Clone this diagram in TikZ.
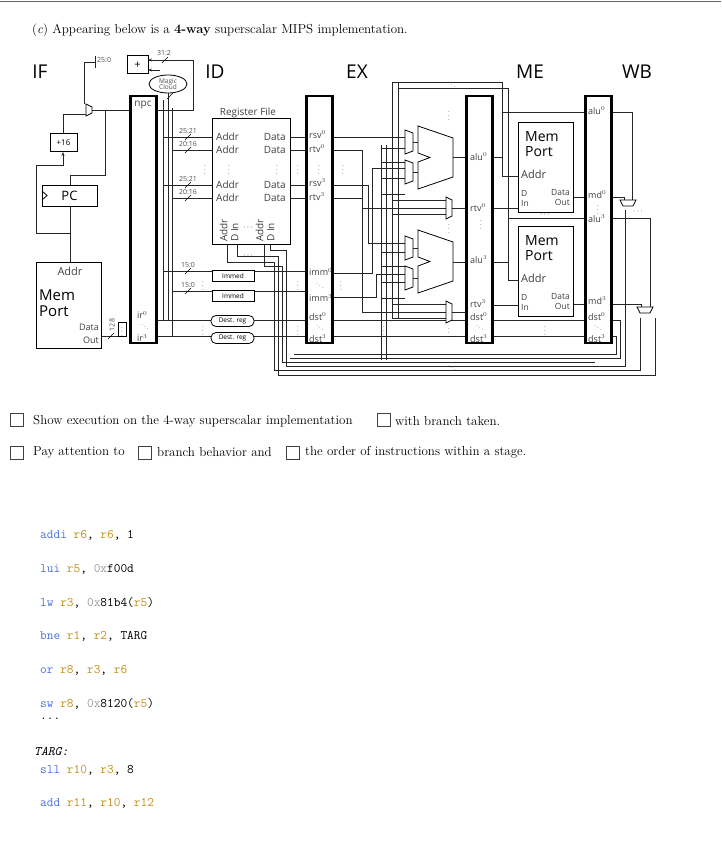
\documentclass[tikz,border=0pt]{standalone}
\usepackage{fontspec}
\newfontfamily\osans{Open Sans}
\usetikzlibrary{shapes.geometric,arrows.meta,calc}
\definecolor{kw}{HTML}{4A72E0}
\definecolor{rg}{HTML}{C0901A}
\definecolor{hx}{HTML}{999999}
\newcommand\vdd[1]{\node[font=\fontsize{7}{7}\selectfont,inner sep=0] at #1 {$\vdots$};}
\newcommand\hdd[1]{\node[font=\fontsize{8}{8}\selectfont,inner sep=0] at #1 {$\cdots$};}
\newcommand\ddd[1]{\node[font=\fontsize{6}{6}\selectfont,inner sep=0,rotate=-35] at #1 {$\cdots$};}
\newcommand\bslash[1]{\draw[thin] ($#1+(-3,3)$) -- ($#1+(3,-3)$);}
\begin{document}
\begin{tikzpicture}[x=1pt,y=-1pt,
  w/.style={line width=0.8pt,black!85},
  latch/.style={draw,line width=2.4pt,fill=white},
  box/.style={draw,line width=1pt,fill=white},
  lbl/.style={font=\osans\fontsize{10}{11}\selectfont,inner sep=0,text=black!75},
  slbl/.style={font=\osans\fontsize{7}{7}\selectfont,inner sep=0,text=black!70},
  sup/.style={font=\osans\fontsize{9}{10}\selectfont,inner sep=0,text=black!75,anchor=west},
  big/.style={font=\osans\fontsize{19}{20}\selectfont,inner sep=0},
  cb/.style={draw,line width=0.9pt,black!75,minimum size=13pt,inner sep=0},
  cbt/.style={draw,line width=1.8pt,black!75,minimum size=13pt,inner sep=0},
  serif/.style={anchor=west,inner sep=0,font=\fontsize{13}{15}\selectfont},
  code/.style={font=\ttfamily\fontsize{13}{14}\selectfont,anchor=west,inner sep=0}]
\useasboundingbox (0,0) rectangle (721,845);
\draw[black!60,line width=1pt] (0,2) -- (721,2);
\node[serif] (title) at (32,30) {(\textit{c}) Appearing below is a \textbf{4-way} superscalar MIPS implementation.};
% stage labels
\node[big] (sIF) at (40,72) {IF};
\node[big] (sID) at (215,72) {ID};
\node[big] (sEX) at (357,72) {EX};
\node[big] (sME) at (530,72) {ME};
\node[big] (sWB) at (637,72) {WB};

% ---------------- wires (behind) ----------------
% IF
\draw[w] (84,104) -- (84,62) -- (95,62);
\draw[w] (95,56) -- (95,68);
\node[slbl,anchor=west] (l250) at (97,60) {25:0};
\draw[w] (92,110) -- (193,110) -- (193,60) -- (148,60);
\draw[w,-{Stealth[length=4pt]}] (193,60) -- (148,60);
\draw[w,-{Stealth[length=4pt]}] (160,70) -- (148,70);
\bslash{(165,60)}
\node[slbl] (l312) at (164,53) {31:2};
\draw[w] (63,134) -- (63,114) -- (86,114);
\draw[w] (70,185) -- (70,175) -- (105,175) -- (105,110);
\draw[w] (70,206) -- (70,262);
\draw[w,-{Stealth[length=4pt]}] (70,233) -- (36,233) -- (36,165) -- (63,165) -- (63,152);
\draw[w] (101,336) -- (118,336);
\bslash{(111,336)}
\node[slbl,rotate=90] (l128) at (112,325) {128};
% ir to ID
\draw[w] (157,320) -- (212,320);
\draw[w] (157,336) -- (212,336);
\draw[w] (163,320) -- (163,100);
\draw[w] (172,336) -- (172,108);
\draw[w] (168,92) -- (168,320);
\bslash{(170,96)}
\foreach \y/\xs in {137/163,150/172,185/163,198/172,271/163,291/172}
  \draw[w] (\xs,\y) -- (212,\y);
\foreach \y/\t in {137/25:21,150/20:16,185/25:21,198/20:16,271/15:0,291/15:0}{
  \bslash{(188,\y)}
  \node[slbl] at (188,\y-6) {\t};}
% ID to EX
\foreach \y in {137,150,185,198,271,291,320,336} \draw[w] (254,\y) -- (306,\y);
% reg file write ports
\draw[w] (227,244) -- (227,262) -- (274,262) -- (274,370) -- (640,370) -- (640,318);
\draw[w] (237,244) -- (237,256) -- (278,256) -- (278,375) -- (655,375) -- (655,318);
\draw[w] (264,244) -- (264,266) -- (282,266) -- (282,362) -- (595,362);
\draw[w] (270,244) -- (270,250) -- (286,250) -- (286,366) -- (625,366) -- (625,210);
\hdd{(248,256)}
\ddd{(452,368)}
% EX internals
\foreach \y in {137,150,185,198} \draw[w] (333,\y) -- (362,\y);
\draw[w] (362,137) -- (405,137);
\draw[w] (362,150) -- (362,208) -- (446,208);
\draw[w] (362,185) -- (368,185) -- (368,243) -- (405,243);
\draw[w] (362,198) -- (362,312) -- (446,312);
\draw[w] (333,273) -- (372,273) -- (372,168) -- (405,168);
\draw[w] (333,297) -- (376,297) -- (376,274) -- (405,274);
\draw[w] (333,320) -- (466,320);
\draw[w] (333,336) -- (466,336);
\foreach \x in {381,386} \draw[w] (\x,145) -- (\x,360);
\foreach \x in {392,398} \draw[w] (\x,82) -- (\x,318);
\draw[w] (392,82) -- (502,82) -- (502,176) -- (518,176);
\draw[w] (398,88) -- (508,88) -- (508,280) -- (518,280);
\ddd{(452,85)}
\foreach \y in {148,162,178,194,252,266,282,298} \draw[w] (381,\y) -- (405,\y);
\foreach \y in {200,214,304,318} \draw[w] (392,\y) -- (446,\y);
% mux to ALU
\foreach \y in {142,172} {\draw[w] (413,\y) -- (418,\y);}
\foreach \y in {248,278} {\draw[w] (413,\y) -- (418,\y);}
\draw[w] (453,157) -- (466,157);
\draw[w] (453,262) -- (466,262);
\draw[w] (452,208) -- (466,208);
\draw[w] (452,312) -- (466,312);
% ME
\draw[w] (493,157) -- (502,157);
\draw[w] (493,262) -- (508,262);
\draw[w] (493,208) -- (518,208);
\draw[w] (493,305) -- (518,305);
\draw[w] (502,112) -- (585,112);
\draw[w] (508,218) -- (585,218);
\draw[w] (573,197) -- (585,197);
\draw[w] (573,304) -- (585,304);
\draw[w] (493,320) -- (585,320);
\draw[w] (493,336) -- (585,336);
\hdd{(545,215)}
% WB
\draw[w] (612,112) -- (632,112) -- (632,200);
\draw[w] (612,197) -- (624,197) -- (624,200);
\draw[w] (612,218) -- (650,218) -- (650,307);
\draw[w] (612,304) -- (641,304) -- (641,307);
\draw[w] (612,320) -- (620,320) -- (620,358) -- (290,358);
\draw[w] (612,336) -- (616,336) -- (616,354) -- (294,354);
\hdd{(638,212)}

% ---------------- blocks ----------------
\node[box,minimum width=21pt,minimum height=18pt,font=\osans\fontsize{11}{11}\selectfont] (add) at (137.5,65) {+};
\node[draw,ellipse,line width=0.8pt,fill=white,minimum width=38pt,minimum height=18pt,inner sep=0,align=center,font=\osans\fontsize{6.5}{6.5}\selectfont,text=black!70] (cloud) at (168,84) {Magic\\Cloud};
\draw[line width=0.8pt,fill=white] (86,104) -- (92,107) -- (92,113) -- (86,116) -- cycle;
\node[box,minimum width=27pt,minimum height=18pt,font=\osans\fontsize{8}{8}\selectfont] (p16) at (63.5,143) {+16};
\node[box,minimum width=55pt,minimum height=21pt,font=\osans\fontsize{13}{14}\selectfont] (pc) at (69.5,195.5) {PC};
\draw[line width=0.8pt] (42,191) -- (47,195.5) -- (42,200);
\node[draw,line width=0.6pt,fill=white,minimum width=65pt,minimum height=86pt] (imem) at (68.5,305) {};
\node[lbl,font=\osans\fontsize{11}{12}\selectfont] at (70,271) {Addr};
\node[anchor=west,inner sep=0,align=left,font=\osans\fontsize{15}{16}\selectfont] at (39,303) {Mem\\Port};
\node[lbl,anchor=east,align=right,font=\osans\fontsize{9}{13}\selectfont] at (99,334) {Data\\Out};
\node[draw,line width=0.6pt,fill=white,minimum width=8pt,minimum height=14pt,inner sep=0] (split) at (122,329) {};
\vdd{(122,329)}
% IF/ID latch
\node[latch,minimum width=26pt,minimum height=247pt] (L1) at (143.5,219.5) {};
\node[lbl] at (143,105) {npc};
\node[sup] at (137,315) {ir$^0$};
\node[sup] at (137,338) {ir$^3$};
\ddd{(145,327)}
% register file
\node[box,minimum width=78pt,minimum height=125pt] (rf) at (251,181.5) {};
\node[lbl] at (248,113) {Register File};
\foreach \y in {137,150,185,198}{
  \node[lbl,anchor=west] at (216,\y) {Addr};
  \node[lbl,anchor=east] at (286,\y) {Data};}
\vdd{(229,167)}\vdd{(277,167)}
\node[lbl,rotate=90,anchor=west,align=left] at (229,242) {Addr\\D In};
\node[lbl,rotate=90,anchor=west,align=left] at (265,242) {Addr\\D In};
\hdd{(248,228)}
\vdd{(205,167)} \vdd{(298,167)} \vdd{(343,167)}
\node[draw,line width=0.8pt,fill=white,minimum width=42pt,minimum height=11pt,font=\osans\fontsize{6.5}{7}\selectfont,inner sep=0] (im0) at (233,276) {Immed};
\node[draw,line width=0.8pt,fill=white,minimum width=42pt,minimum height=11pt,font=\osans\fontsize{6.5}{7}\selectfont,inner sep=0] (im3) at (233,296) {Immed};
\node[draw,line width=0.8pt,fill=white,rounded corners=5pt,minimum width=43pt,minimum height=11pt,font=\osans\fontsize{6.5}{7}\selectfont,inner sep=0] (d0) at (232.5,321) {Dest. reg};
\node[draw,line width=0.8pt,fill=white,rounded corners=5pt,minimum width=43pt,minimum height=11pt,font=\osans\fontsize{6.5}{7}\selectfont,inner sep=0] (d3) at (232.5,338) {Dest. reg};
\vdd{(203,283)} \vdd{(203,328)} \vdd{(298,283)} \vdd{(298,328)} \vdd{(341,283)}
% ID/EX latch
\node[latch,minimum width=26pt,minimum height=247pt] (L2) at (319.5,219.5) {};
\foreach \y/\t in {135/rsv$^0$,149/rtv$^0$,183/rsv$^3$,197/rtv$^3$,272/imm$^0$,298/imm$^3$,317/dst$^0$,339/dst$^3$}
  \node[sup] at (309,\y) {\t};
\vdd{(319,167)} \ddd{(320,286)} \ddd{(320,328)}
% EX muxes & ALUs
\foreach \yc in {142,172,248,278}
  \draw[line width=0.8pt,fill=white] (405,\yc-12) -- (413,\yc-9) -- (413,\yc+9) -- (405,\yc+12) -- cycle;
\foreach \yc in {208,312}
  \draw[line width=0.8pt,fill=white] (446,\yc-11) -- (452,\yc-8) -- (452,\yc+8) -- (446,\yc+11) -- cycle;
\foreach \yt in {126,230}
  \draw[line width=0.8pt,fill=white] (418,\yt) -- (453,\yt+12) -- (453,\yt+51) -- (418,\yt+63) -- (418,\yt+36) -- (430,\yt+31.5) -- (418,\yt+27) -- cycle;
\vdd{(449,113)} \vdd{(449,226)} \vdd{(449,330)} \vdd{(384,328)}
% EX/ME latch
\node[latch,minimum width=26pt,minimum height=247pt] (L3) at (479.5,219.5) {};
\foreach \y/\t in {157/alu$^0$,208/rtv$^0$,260/alu$^3$,304/rtv$^3$,317/dst$^0$,339/dst$^3$}
  \node[sup] at (470,\y) {\t};
\vdd{(481,222)} \ddd{(480,328)}
% ME mem ports
\foreach \yt/\n in {122/mA,226/mB}{
  \node[box,minimum width=55pt,minimum height=90pt,anchor=north west] (\n) at (518,\yt) {};
  \node[anchor=west,inner sep=0,align=left,font=\osans\fontsize{14}{15}\selectfont] at (525,\yt+22) {Mem\\Port};
  \node[lbl,anchor=west,font=\osans\fontsize{11}{12}\selectfont] at (521,\yt+52) {Addr};
  \node[lbl,anchor=west,align=left,font=\osans\fontsize{8.5}{10}\selectfont] at (521,\yt+76) {D\\In};
  \node[lbl,anchor=east,align=right,font=\osans\fontsize{8.5}{10}\selectfont] at (570,\yt+76) {Data\\Out};}
\vdd{(545,328)}
% ME/WB latch
\node[latch,minimum width=26pt,minimum height=247pt] (L4) at (598.5,219.5) {};
\foreach \y/\t in {111/alu$^0$,195/md$^0$,219/alu$^3$,301/md$^3$,317/dst$^0$,339/dst$^3$}
  \node[sup] at (588,\y) {\t};
\vdd{(598,207)} \ddd{(598,328)}
% WB muxes
\draw[line width=0.8pt,fill=white] (620,200) -- (636,200) -- (633,206) -- (623,206) -- cycle;
\draw[line width=0.8pt,fill=white] (637,307) -- (653,307) -- (650,313) -- (640,313) -- cycle;

% ---------------- questions ----------------
\node[cb] (c1) at (17,420) {};
\node[serif] (t1) at (33,421) {Show execution on the 4-way superscalar implementation};
\node[cb] (c2) at (384,420) {};
\node[serif] (t2) at (395,421) {with branch taken.};
\node[cbt] (c3) at (17,453) {};
\node[serif] (t3) at (33,452) {Pay attention to};
\node[cbt] (c4) at (145,453) {};
\node[serif] (t4) at (157,452) {branch behavior and};
\node[cbt] (c5) at (293,453) {};
\node[serif] (t5) at (305,452) {the order of instructions within a stage.};
% ---------------- code ----------------
\node[code] (i1) at (40,535) {\textcolor{kw}{addi} \textcolor{rg}{r6}, \textcolor{rg}{r6}, 1};
\node[code] (i2) at (40,569) {\textcolor{kw}{lui} \textcolor{rg}{r5}, \textcolor{hx}{0x}f00d};
\node[code] (i3) at (40,603) {\textcolor{kw}{lw} \textcolor{rg}{r3}, \textcolor{hx}{0x}81b4(\textcolor{rg}{r5})};
\node[code] (i4) at (40,636) {\textcolor{kw}{bne} \textcolor{rg}{r1}, \textcolor{rg}{r2}, TARG};
\node[code] (i5) at (40,670) {\textcolor{kw}{or} \textcolor{rg}{r8}, \textcolor{rg}{r3}, \textcolor{rg}{r6}};
\node[code] (i6) at (40,704) {\textcolor{kw}{sw} \textcolor{rg}{r8}, \textcolor{hx}{0x}8120(\textcolor{rg}{r5})};
\node[code] (i7) at (40,719) {...};
\node[code,font=\ttfamily\itshape\fontsize{13}{14}\selectfont] (tg) at (34,752) {TARG:};
\node[code] (i8) at (40,770) {\textcolor{kw}{sll} \textcolor{rg}{r10}, \textcolor{rg}{r3}, 8};
\node[code] (i9) at (40,803) {\textcolor{kw}{add} \textcolor{rg}{r11}, \textcolor{rg}{r10}, \textcolor{rg}{r12}};
\end{tikzpicture}
\end{document}
